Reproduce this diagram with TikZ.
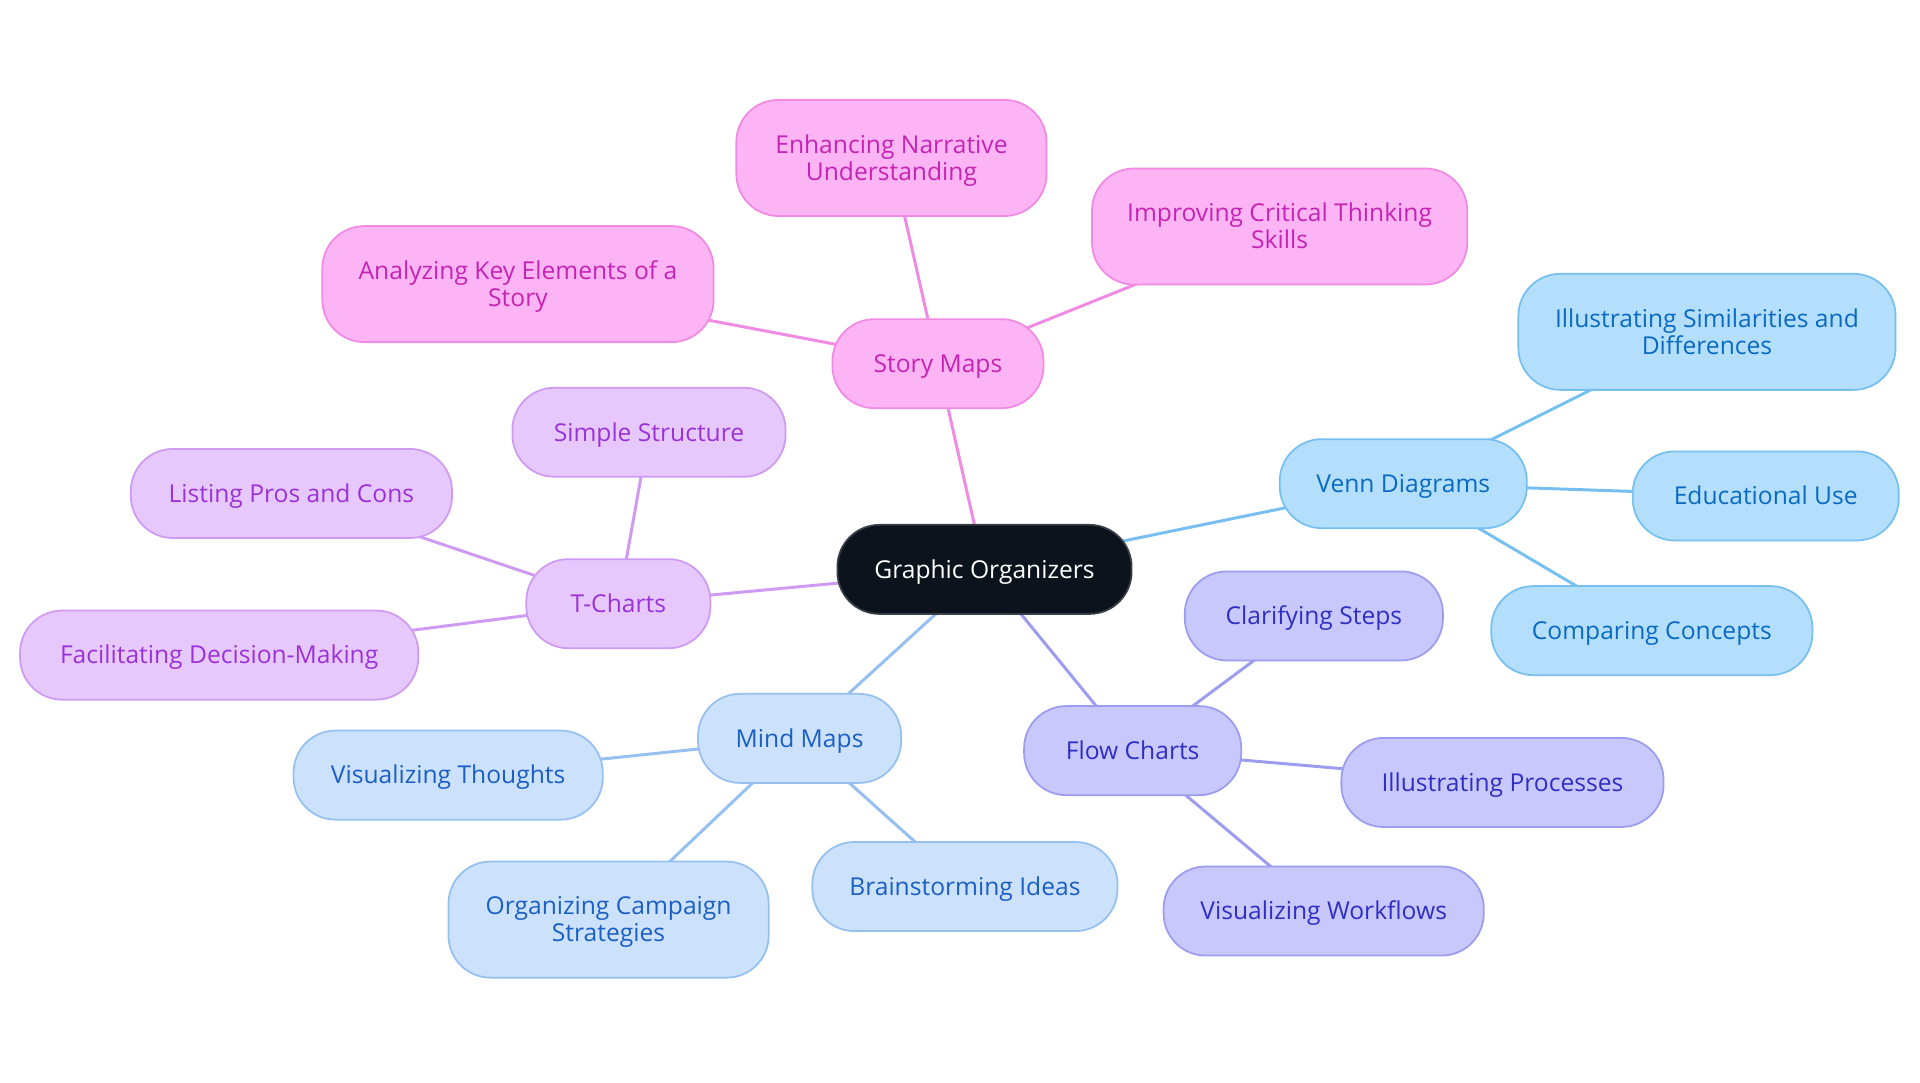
\documentclass[tikz,border=0pt]{standalone}
\usepackage{fontspec}
\setmainfont{Open Sans}
\usetikzlibrary{backgrounds}

\definecolor{hubfill}{HTML}{0D131C}
\definecolor{hubline}{HTML}{3A3F47}
\definecolor{storyfill}{HTML}{FDB4F5}
\definecolor{storyline}{HTML}{F08BE3}
\definecolor{storytext}{HTML}{C424B3}
\definecolor{tfill}{HTML}{E7C8FD}
\definecolor{tline}{HTML}{CE9AF2}
\definecolor{ttext}{HTML}{9A32D8}
\definecolor{vennfill}{HTML}{B3DFFD}
\definecolor{vennline}{HTML}{77BFF0}
\definecolor{venntext}{HTML}{0A6AC1}
\definecolor{flowfill}{HTML}{C8C8FC}
\definecolor{flowline}{HTML}{9C9CF0}
\definecolor{flowtext}{HTML}{2F2FC4}
\definecolor{mindfill}{HTML}{CCE2FC}
\definecolor{mindline}{HTML}{95C0F0}
\definecolor{mindtext}{HTML}{1C5FC4}

\tikzset{
  pill/.style={draw, line width=0.5pt, rounded corners=0.42cm, inner sep=0pt,
    minimum height=0.89cm, align=center, font=\fontsize{7}{7.7}\selectfont,
    text height=5pt, text depth=0pt},
  tall/.style={minimum height=1.16cm, text height=12.7pt},
  hubbox/.style={pill, fill=hubfill, draw=hubline, text=white},
  storybox/.style={pill, fill=storyfill, draw=storyline, text=storytext},
  tbox/.style={pill, fill=tfill, draw=tline, text=ttext},
  vennbox/.style={pill, fill=vennfill, draw=vennline, text=venntext},
  flowbox/.style={pill, fill=flowfill, draw=flowline, text=flowtext},
  mindbox/.style={pill, fill=mindfill, draw=mindline, text=mindtext},
  link/.style={line width=0.85pt}
}

\begin{document}
\begin{tikzpicture}[x=0.012245cm, y=-0.012245cm]
  \useasboundingbox (0,0) rectangle (1568,884);

  % centre
  \node[hubbox, minimum width=2.94cm] (go) at (804,465) {Graphic Organizers};

  % story maps
  \node[storybox, minimum width=2.11cm] (story) at (766,297) {Story Maps};
  \node[storybox, tall, minimum width=3.10cm] (narr) at (728,129) {Enhancing Narrative\\Understanding};
  \node[storybox, tall, minimum width=3.75cm] (crit) at (1045,185) {Improving Critical Thinking\\Skills};
  \node[storybox, tall, minimum width=3.91cm] (keys) at (423,232) {Analyzing Key Elements of a\\Story};

  % t-charts
  \node[tbox, minimum width=1.84cm] (tch) at (505,493) {T-Charts};
  \node[tbox, minimum width=2.73cm] (simple) at (530,353) {Simple Structure};
  \node[tbox, minimum width=3.21cm] (pros) at (238,403) {Listing Pros and Cons};
  \node[tbox, minimum width=3.98cm] (decide) at (179,535) {Facilitating Decision-Making};

  % venn diagrams
  \node[vennbox, minimum width=2.47cm] (venn) at (1146,395) {Venn Diagrams};
  \node[vennbox, tall, minimum width=3.77cm] (simdiff) at (1394,271) {Illustrating Similarities and\\Differences};
  \node[vennbox, minimum width=2.66cm] (edu) at (1442,405) {Educational Use};
  \node[vennbox, minimum width=3.21cm] (comp) at (1349,515) {Comparing Concepts};

  % flow charts
  \node[flowbox, minimum width=2.17cm] (flow) at (925,613) {Flow Charts};
  \node[flowbox, minimum width=2.58cm] (steps) at (1073,503) {Clarifying Steps};
  \node[flowbox, minimum width=3.22cm] (proc) at (1227,639) {Illustrating Processes};
  \node[flowbox, minimum width=3.20cm] (work) at (1081,744) {Visualizing Workflows};

  % mind maps
  \node[mindbox, minimum width=2.03cm] (mind) at (653,603) {Mind Maps};
  \node[mindbox, minimum width=3.09cm] (thoughts) at (366,633) {Visualizing Thoughts};
  \node[mindbox, tall, minimum width=3.20cm] (camp) at (497,751) {Organizing Campaign\\Strategies};
  \node[mindbox, minimum width=3.05cm] (brain) at (788,724) {Brainstorming Ideas};

  \begin{scope}[on background layer]
    \draw[link, storyline] (go.center) -- (story.center);
    \foreach \n in {narr, crit, keys} \draw[link, storyline] (story.center) -- (\n.center);
    \draw[link, tline] (go.center) -- (tch.center);
    \foreach \n in {simple, pros, decide} \draw[link, tline] (tch.center) -- (\n.center);
    \draw[link, vennline] (go.center) -- (venn.center);
    \foreach \n in {simdiff, edu, comp} \draw[link, vennline] (venn.center) -- (\n.center);
    \draw[link, flowline] (go.center) -- (flow.center);
    \foreach \n in {steps, proc, work} \draw[link, flowline] (flow.center) -- (\n.center);
    \draw[link, mindline] (go.center) -- (mind.center);
    \foreach \n in {thoughts, camp, brain} \draw[link, mindline] (mind.center) -- (\n.center);
  \end{scope}
\end{tikzpicture}
\end{document}
